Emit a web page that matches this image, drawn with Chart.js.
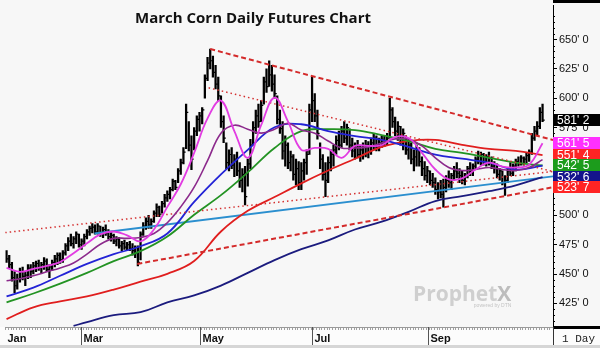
<!DOCTYPE html>
<html lang="en">
  <head>
    <meta charset="UTF-8" />
    <title>March Corn Daily Futures Chart</title>
    <script src="https://cdn.jsdelivr.net/npm/chart.js"></script>
    <style>
      html, body { margin: 0; padding: 0; background: #f7f7f7; }
      #wrap { width: 600px; height: 348px; }
    </style>
  </head>
  <body>
    <div id="wrap"><canvas id="corn" width="600" height="348"></canvas></div>

    <script>
      // Daily bars (one per trading day, mid Jan -> Oct)
      const highs = [
        470, 466, 460, 452, 450, 455, 456, 452, 458, 458,
        460, 461, 462, 460, 464, 463, 458, 462, 466, 468,
        468, 470, 476, 481, 484, 482, 486, 484, 480, 484,
        488, 491, 493, 492, 493, 491, 490, 492, 488, 486,
        484, 482, 481, 478, 479, 477, 478, 476, 474, 474,
        486, 494, 498, 500, 497, 504, 510, 508, 512, 518,
        521, 524, 531, 530, 540, 548, 558, 595, 580, 568,
        575, 585, 588, 592, 620, 635, 642, 636, 628, 618,
        602, 585, 562, 556, 558, 552, 554, 545, 540, 542,
        548, 565, 580, 590, 595, 598, 618, 625, 632, 628,
        620, 602, 590, 580, 568, 562, 555, 552, 548, 546,
        545, 548, 556, 595, 618, 604, 590, 562, 552, 545,
        550, 556, 560, 568, 572, 576, 580, 578, 574, 566,
        562, 564, 560, 562, 564, 563, 566, 570, 568, 566,
        568, 568, 570, 600, 592, 584, 580, 576, 574, 568,
        565, 562, 556, 560, 558, 550, 546, 542, 538, 536,
        532, 528, 530, 531, 534, 538, 536, 542, 545, 540,
        538, 536, 542, 545, 544, 550, 555, 554, 553, 552,
        554, 550, 546, 544, 540, 538, 534, 540, 545, 544,
        548, 550, 551, 550, 553, 556, 570, 576, 580, 592, 595
      ];
      const lows = [
        460, 455, 444, 434, 437, 443, 445, 440, 446, 447,
        450, 452, 453, 451, 454, 452, 447, 453, 456, 458,
        459, 460, 466, 470, 474, 472, 476, 473, 471, 474,
        480, 483, 485, 484, 484, 482, 481, 483, 480, 478,
        476, 474, 472, 470, 471, 470, 470, 466, 464, 457,
        462, 483, 488, 489, 489, 494, 499, 499, 502, 507,
        512, 514, 521, 522, 528, 535, 544, 557, 555, 539,
        556, 568, 572, 578, 600, 615, 625, 618, 608, 598,
        575, 562, 540, 538, 540, 533, 534, 524, 520, 509,
        525, 540, 560, 570, 575, 580, 595, 605, 610, 606,
        600, 578, 570, 548, 542, 540, 538, 530, 526, 522,
        522, 530, 535, 552, 580, 580, 565, 540, 530, 516,
        528, 538, 542, 552, 556, 558, 562, 560, 556, 550,
        548, 549, 546, 548, 550, 549, 552, 556, 555, 555,
        558, 559, 560, 566, 575, 568, 564, 560, 556, 552,
        548, 544, 538, 542, 542, 534, 530, 528, 526, 524,
        518, 514, 515, 507, 520, 524, 522, 530, 532, 528,
        527, 526, 532, 534, 534, 540, 544, 543, 543, 542,
        543, 540, 536, 532, 530, 526, 517, 528, 534, 534,
        538, 542, 543, 543, 545, 546, 552, 564, 568, 574, 580
      ];
      const closes = [
        463, 458, 447, 440, 446, 452, 448, 449, 455, 452,
        457, 459, 455, 458, 461, 454, 456, 460, 463, 466,
        462, 468, 474, 478, 476, 480, 484, 475, 478, 482,
        486, 489, 490, 486, 491, 484, 488, 485, 482, 483,
        478, 480, 474, 476, 473, 475, 472, 470, 468, 460,
        484, 491, 495, 492, 495, 502, 507, 501, 510, 515,
        518, 522, 529, 524, 538, 545, 554, 588, 560, 548,
        572, 582, 585, 590, 617, 630, 632, 622, 612, 602,
        580, 566, 545, 552, 543, 548, 538, 530, 535, 516,
        544, 560, 575, 585, 580, 594, 614, 610, 620, 612,
        604, 582, 574, 555, 560, 545, 550, 535, 540, 528,
        538, 545, 552, 590, 598, 585, 570, 548, 535, 530,
        545, 552, 556, 564, 560, 572, 566, 575, 560, 555,
        558, 552, 556, 552, 560, 554, 562, 566, 558, 562,
        565, 562, 566, 590, 580, 572, 576, 565, 570, 556,
        560, 548, 550, 556, 546, 540, 534, 538, 530, 528,
        522, 520, 518, 524, 530, 528, 534, 538, 536, 534,
        530, 533, 540, 538, 542, 548, 546, 552, 546, 550,
        545, 542, 540, 535, 538, 528, 530, 538, 536, 542,
        546, 544, 549, 548, 551, 554, 566, 572, 576, 588, 581.25
      ];

      // x axis: bar index where each labelled month begins
      const monthStarts = [-0.5, 27.6, 72.1, 113.8, 157.1];
      const monthLabels = ["Jan", "Mar", "May", "Jul", "Sep"];
      const yTicks = [425, 450, 475, 500, 525, 550, 575, 600, 625, 650];

      // moving averages, read every 5 / 10 bars
      const fastX = [0, 5, 10, 15, 20, 25, 30, 35, 40, 45, 50, 55, 60, 65, 70, 75, 80, 85, 90, 95,
        100, 105, 110, 115, 120, 125, 130, 135, 140, 145, 150, 155, 160, 165, 170, 175, 180, 185, 190, 195, 200];
      const ma9 = [455.2, 451.9, 454.4, 456.9, 460.3, 467.8, 476.2, 483.8, 486.3, 483,
        477.9, 488, 507.3, 526.6, 553.4, 582.8, 598, 572, 549.2, 577,
        600.5, 580.3, 556, 557.6, 556.8, 549.2, 559.3, 559.3, 560, 566.9,
        566, 553.4, 539.2, 530.8, 531.7, 539.2, 545, 541.7, 540.9, 543.4, 561.6];
      const ma18 = [444.3, 446, 448.5, 451.9, 455.2, 459.4, 467, 475.4, 480.4, 480.4,
        481.2, 484.6, 493.8, 507.3, 524.1, 546.7, 570.2, 577, 573.6, 570.2,
        573.6, 578.6, 572.8, 570.2, 563.5, 557.6, 557.6, 558.5, 561.8, 565.2,
        565.2, 559.3, 549.2, 540.9, 538.3, 539.2, 540.9, 539.2, 538.3, 540.9, 547.6];

      const slowX = [0, 10, 20, 30, 40, 50, 60, 70, 80, 90, 100, 110, 120, 130, 140, 150, 160, 170, 180, 190, 200];
      const ma40 = [430.9, 438.4, 448.5, 458.6, 467, 473.7, 484.6, 511.5, 535, 556,
        575.3, 577.8, 571.9, 567.7, 564.4, 558.5, 551.8, 548.4, 545, 539.2, 542.5];
      const ma50 = [425.8, 433.4, 441.8, 451, 461, 469.5, 482, 500.6, 517.3, 536.7,
        557.6, 571.9, 573.6, 572.8, 568.6, 563.5, 556.8, 553.4, 549.2, 545, 542.625];
      const ma100 = [411.5, 421.6, 426.7, 430.9, 436.7, 443.5, 450.2, 461.1, 486.3, 503.9,
        515.7, 527.4, 538.3, 548.4, 558.5, 563.5, 564.4, 560.2, 556.8, 555.1, 551.5];
      const ma200X = [25, 30, 40, 50, 60, 70, 80, 90, 100, 110, 120, 130, 140, 150, 160, 170, 180, 190, 200];
      const ma200 = [405.7, 409, 414.9, 417.4, 425.8, 431.7, 440.1, 451, 461.9, 471.2,
        478.7, 488, 494.7, 503.1, 512.3, 516.5, 520.7, 525.7, 532.75];

      // trend lines: [start bar, end bar] and [start price, end price]
      const topDashX = [76, 203.9], topDash = [642, 564.4];
      const lowDashX = [48.8, 203.9], lowDash = [458.6, 524.1];
      const topDotX = [75.4, 203.9], topDot = [608.9, 537.5];
      const lowDotX = [-0.5, 203.9], lowDot = [485.4, 537.5];
      const steelX = [32.8, 203.9], steel = [484.6, 533.3];

      // last value boxes on the price axis
      const lastValues = [581.25, 561.625, 551.5, 542.625, 532.75, 523.875];
      const lastColors = ["#000000", "#ff30ff", "#ff2424", "#1c9c1c", "#14148c", "#ff2424"];

      const fmt = (v) => Math.floor(v) + "' " + Math.round((v - Math.floor(v)) * 8);
      const pts = (xs, ys) => xs.map((x, i) => ({ x: x, y: ys[i] }));

      function maLine(xs, ys, color, width) {
        return {
          type: "line",
          data: pts(xs, ys),
          borderColor: color,
          borderWidth: width,
          pointRadius: 0,
          tension: 0.4,
        };
      }
      function trend(xs, ys, color, dash, width) {
        return {
          type: "line",
          data: pts(xs, ys),
          borderColor: color,
          borderWidth: width,
          borderDash: dash,
          pointRadius: 0,
          tension: 0,
        };
      }

      const decor = {
        id: "decor",
        beforeDraw(chart) {
          const { ctx, width, chartArea } = chart;
          ctx.save();
          ctx.fillStyle = "#f7f7f7";
          ctx.fillRect(0, 0, width, chart.height);
          ctx.fillStyle = "#fcfcfc";
          ctx.fillRect(0, chartArea.bottom, width, 18);
          ctx.fillStyle = "#d6d6d6";
          ctx.fillRect(0, 345, width, 3);
          ctx.restore();
        },
        beforeDatasetsDraw(chart) {
          const { ctx } = chart;
          ctx.save();
          ctx.font = 'bold 21px "Open Sans"';
          ctx.textBaseline = "alphabetic";
          ctx.fillStyle = "#cfcfcf";
          ctx.fillText("Prophet", 413, 301);
          const w = ctx.measureText("Prophet").width;
          ctx.fillStyle = "#bdbdbd";
          ctx.fillText("X", 413 + w, 301);
          const end = 413 + w + ctx.measureText("X").width;
          ctx.font = '5px "Liberation Sans"';
          ctx.textAlign = "right";
          ctx.fillStyle = "#c4c4c4";
          ctx.fillText("powered by DTN", end, 307);
          ctx.restore();
        },
        afterDraw(chart) {
          const { ctx, chartArea } = chart;
          const xs = chart.scales.x, ys = chart.scales.y;
          const bottom = chartArea.bottom, right = chartArea.right;
          ctx.save();

          // title
          ctx.font = 'bold 15px "Open Sans"';
          ctx.fillStyle = "#111";
          ctx.textAlign = "center";
          ctx.fillText("March Corn Daily Futures Chart", 253, 23);

          // minor ticks on the price axis
          ctx.strokeStyle = "#000";
          ctx.lineWidth = 1;
          for (let v = 410; v < 680; v += 5) {
            if (v % 25 === 0) continue;
            const py = Math.round(ys.getPixelForValue(v)) + 0.5;
            ctx.beginPath();
            ctx.moveTo(right, py);
            ctx.lineTo(right + 2, py);
            ctx.stroke();
          }

          // day ticks along the date axis
          ctx.strokeStyle = "#a0a0a0";
          for (let i = 0; i < 204; i++) {
            const px = Math.round(xs.getPixelForValue(i - 0.5)) + 0.5;
            ctx.beginPath();
            ctx.moveTo(px, bottom + 1);
            ctx.lineTo(px, bottom + 3);
            ctx.stroke();
          }

          // month separators and labels
          ctx.font = 'bold 11px "Liberation Sans"';
          ctx.textAlign = "left";
          ctx.fillStyle = "#111";
          monthStarts.forEach((m, k) => {
            const px = Math.round(xs.getPixelForValue(m)) + 0.5;
            if (k > 0) {
              ctx.strokeStyle = "#555";
              ctx.beginPath();
              ctx.moveTo(px, bottom);
              ctx.lineTo(px, 345);
              ctx.stroke();
            }
            ctx.fillText(monthLabels[k], px + 2, 342);
          });

          // last value boxes
          ctx.font = '12px "Liberation Sans"';
          lastValues.forEach((v, k) => {
            const py = ys.getPixelForValue(v);
            ctx.fillStyle = lastColors[k];
            ctx.fillRect(right, Math.round(py - 6), 600 - right, 12);
            ctx.fillStyle = "#fff";
            ctx.textBaseline = "middle";
            ctx.fillText(fmt(v), right + 4, py + 0.5);
          });

          // corner: interval box and top band
          ctx.fillStyle = "#000";
          ctx.fillRect(right, 0, 600 - right, 3);
          ctx.fillRect(right, bottom - 1, 600 - right, 3);
          ctx.strokeStyle = "#333";
          ctx.beginPath();
          ctx.moveTo(right + 0.5, bottom);
          ctx.lineTo(right + 0.5, 345);
          ctx.stroke();
          ctx.font = '11px "Liberation Mono"';
          ctx.fillStyle = "#222";
          ctx.textBaseline = "alphabetic";
          ctx.fillText("1 Day", right + 9, 342);
          ctx.restore();
        },
      };

      const bars = highs.map((h, i) => ({ x: i, y: [lows[i], h] }));
      const closePts = closes.map((c, i) => ({ x: i, y: c }));

      new Chart(document.getElementById("corn"), {
        type: "bar",
        data: {
          datasets: [
            maLine(fastX, ma9, "#e23ce2", 1.8),
            maLine(fastX, ma18, "#8c2a8c", 1.6),
            trend(topDashX, topDash, "#d42a2a", [5, 3], 2),
            trend(lowDashX, lowDash, "#d42a2a", [5, 3], 2),
            trend(topDotX, topDot, "#d43030", [1.5, 3], 1.5),
            trend(lowDotX, lowDot, "#d43030", [1.5, 3], 1.5),
            maLine(slowX, ma40, "#2323d6", 1.8),
            maLine(slowX, ma50, "#239323", 1.8),
            maLine(slowX, ma100, "#e01e1e", 1.8),
            maLine(ma200X, ma200, "#1b1b7e", 1.8),
            trend(steelX, steel, "#2b8fcf", [], 1.8),
            {
              type: "line",
              data: closePts,
              showLine: false,
              pointStyle: "dash",
              pointRadius: 2.2,
              pointBorderColor: "#000",
              pointBorderWidth: 1.2,
            },
            {
              type: "bar",
              data: bars,
              backgroundColor: "#000",
              barThickness: 1.6,
            },
          ],
        },
        options: {
          responsive: false,
          animation: false,
          devicePixelRatio: 1,
          layout: { padding: 0 },
          plugins: { legend: { display: false }, tooltip: { enabled: false }, title: { display: false } },
          scales: {
            x: {
              type: "linear",
              min: -0.5,
              max: 203.9,
              offset: false,
              grid: { display: false },
              ticks: { display: false },
              border: { display: true, color: "#9a9a9a" },
              afterFit(s) { s.height = 21; s.paddingLeft = 0; s.paddingRight = 0; },
            },
            y: {
              position: "right",
              min: 404.8,
              max: 679.4,
              afterBuildTicks(s) { s.ticks = yTicks.map((v) => ({ value: v })); },
              ticks: {
                autoSkip: false,
                padding: 2,
                color: "#111",
                font: { family: '"Liberation Sans", Arial', size: 11 },
                callback: (v) => fmt(v),
              },
              grid: { drawOnChartArea: false, drawTicks: true, tickLength: 4, color: "#000" },
              border: { display: true, color: "#000" },
              afterFit(s) { s.width = 47; s.paddingTop = 0; s.paddingBottom = 0; },
            },
          },
        },
        plugins: [decor],
      });
    </script>
  </body>
</html>
